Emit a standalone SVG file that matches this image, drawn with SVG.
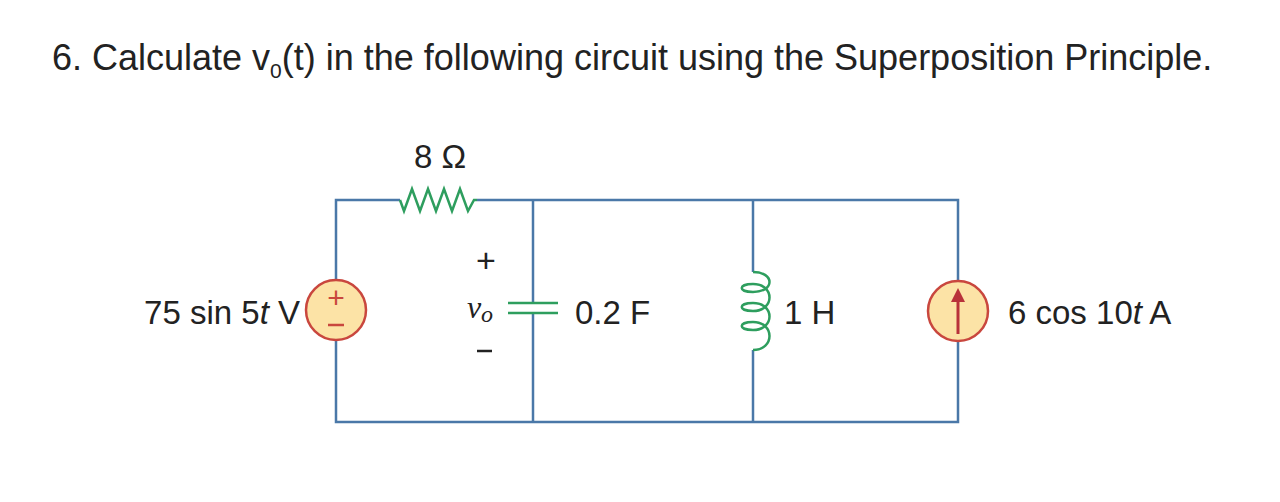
<svg xmlns="http://www.w3.org/2000/svg" width="1280" height="502" viewBox="0 0 1280 502">
<style>
.w{fill:none;stroke:#4a78a8;stroke-width:2.5}
.g{fill:none;stroke:#2e9e5e;stroke-width:2.5}
.t{font-family:"Liberation Sans",Arial,sans-serif;fill:#222}
.src{fill:#fce3a6;stroke:#c9473e;stroke-width:2.5}
</style>
<rect width="1280" height="502" fill="#fff"/>
<text class="t" x="52" y="70" font-size="36">6.  Calculate v<tspan font-size="21" dy="8">0</tspan><tspan dy="-8">(t) in the following circuit using the Superposition Principle.</tspan></text>
<g id="wires">
<polyline class="w" points="336,280 336,200 400,200"/>
<polyline class="w" points="477,200 958,200 958,280"/>
<polyline class="w" points="336,340 336,422 958,422 958,342"/>
<line class="w" x1="533" y1="200" x2="533" y2="303"/>
<line class="w" x1="533" y1="313" x2="533" y2="422"/>
<line class="w" x1="753" y1="200" x2="753" y2="272"/>
<line class="w" x1="753" y1="350" x2="753" y2="422"/>
</g>
<g id="resistor">
<polyline class="g" points="400,200 404,211 412,189 420,211 428,189 436,211 444,189 452,211 460,189 468,211 474,200 477,200"/>
<text class="t" x="440" y="168" font-size="33" text-anchor="middle">8 Ω</text>
</g>
<g id="vsource">
<circle class="src" cx="336" cy="310" r="30"/>
<text x="336" y="308" font-family="Liberation Sans,sans-serif" font-size="30" fill="#c9473e" text-anchor="middle">+</text>
<line x1="328" y1="325" x2="344" y2="325" stroke="#c9473e" stroke-width="2.5"/>
<text class="t" x="300" y="324" font-size="33" text-anchor="end">75 sin 5<tspan font-style="italic">t</tspan> V</text>
</g>
<g id="capacitor">
<line class="g" x1="508" y1="303" x2="558" y2="303"/>
<line class="g" x1="508" y1="313" x2="558" y2="313"/>
<text class="t" x="575" y="324" font-size="33">0.2 F</text>
<text class="t" x="486" y="272" font-size="34" text-anchor="middle">+</text>
<text x="480" y="318" font-family="Liberation Serif,serif" font-style="italic" font-size="32" fill="#222" text-anchor="middle">v<tspan font-size="24" dy="4">o</tspan></text>
<line x1="477" y1="351" x2="492" y2="351" stroke="#222" stroke-width="2.5"/>
</g>
<g id="inductor">
<path class="g" d="M753,272 C775,272 775,292 753,292 C738,292 738,284 753,284 M753,284 C775,284 775,311 753,311 C738,311 738,303 753,303 M753,303 C775,303 775,330 753,330 C738,330 738,322 753,322 M753,322 C775,322 775,350 753,350"/>
<text class="t" x="784" y="324" font-size="33">1 H</text>
</g>
<g id="isource">
<circle class="src" cx="958" cy="311" r="30"/>
<line x1="958" y1="334" x2="958" y2="300" stroke="#b8323a" stroke-width="3"/>
<polygon points="958,288 951,302 965,302" fill="#b8323a"/>
<text class="t" x="1008" y="324" font-size="33">6 cos 10<tspan font-style="italic">t</tspan> A</text>
</g>
</svg>
